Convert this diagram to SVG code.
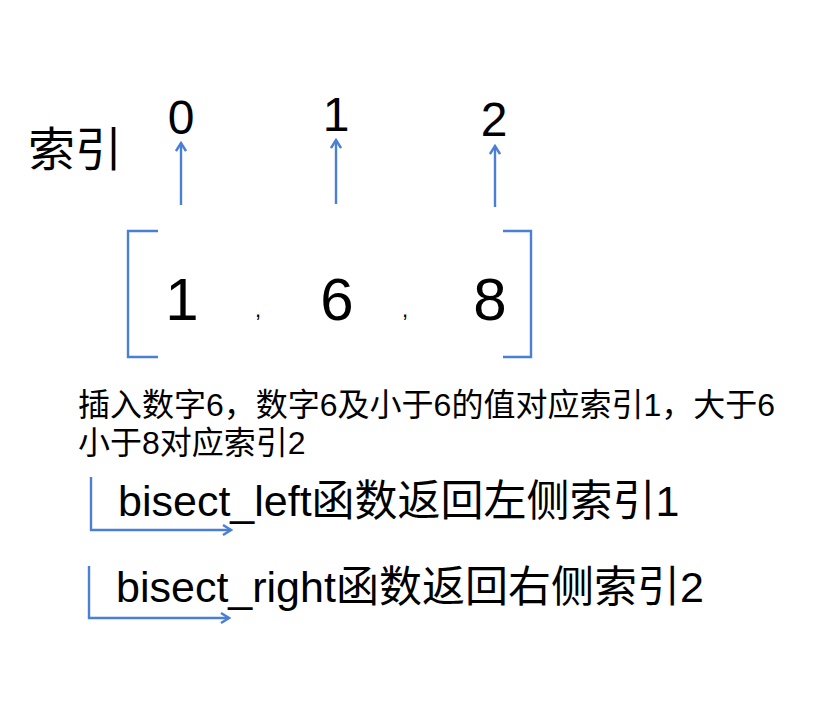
<svg xmlns="http://www.w3.org/2000/svg" width="829" height="720" viewBox="0 0 829 720">
<style>
text{font-family:"Liberation Sans","Noto Sans CJK SC",sans-serif;fill:#000}
.l{fill:none;stroke:#4a7fd6;stroke-width:2.4}
</style>
<defs><marker id="a" markerWidth="12" markerHeight="12" refX="10" refY="6" orient="auto" markerUnits="userSpaceOnUse"><path d="M2,1 L10,6 L2,11" fill="none" stroke="#4a7fd6" stroke-width="2.4"/></marker></defs>
<rect width="829" height="720" fill="#fff"/>
<g id="label"><text x="28" y="166" font-size="47">索引</text></g>
<g id="indices" font-size="48" text-anchor="middle">
<text x="181" y="134">0</text><text x="336" y="131">1</text><text x="494" y="136">2</text>
</g>
<g id="array">
<path class="l" d="M158,231 H128 V357 H158 M503,231 H531 V357 H503"/>
<text x="182" y="320" font-size="60" text-anchor="middle">1</text>
<text x="337" y="320" font-size="60" text-anchor="middle">6</text>
<text x="490" y="320" font-size="60" text-anchor="middle">8</text>
<text x="255" y="317" font-size="22">,</text>
<text x="402" y="317" font-size="22">,</text>
</g>
<g id="desc" font-size="32">
<text x="78" y="416">插入数字6，数字6及小于6的值对应索引1，大于6</text>
<text x="78" y="454">小于8对应索引2</text>
</g>
<g id="connectors">
<path class="l" d="M181,205 V143" marker-end="url(#a)"/>
<path class="l" d="M336,204 V140" marker-end="url(#a)"/>
<path class="l" d="M495,207 V146" marker-end="url(#a)"/>
<path class="l" d="M91,477 V530 H231" marker-end="url(#a)"/>
<path class="l" d="M89,566 V618 H229" marker-end="url(#a)"/>
</g>
<g id="results" font-size="43">
<text x="118" y="516">bisect_left函数返回左侧索引1</text>
<text x="116" y="602">bisect_right函数返回右侧索引2</text>
</g>
</svg>
